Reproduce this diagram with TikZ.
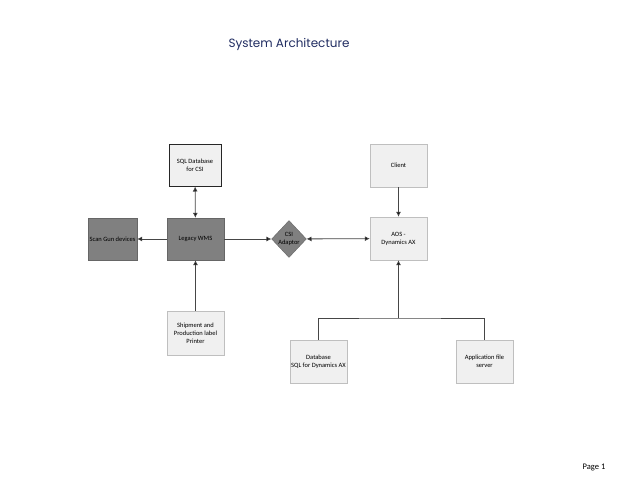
\documentclass[tikz,border=0pt]{standalone}
\usepackage{fontspec}
\setmainfont{Carlito}
\newfontfamily\titlefont{Poppins}
\usepackage{tikz}
\usetikzlibrary{arrows.meta,shapes.geometric,shadows}
\definecolor{titleblue}{RGB}{33,45,98}
\definecolor{linegray}{RGB}{70,70,70}

\begin{document}
\begin{tikzpicture}[x=1pt,y=-1pt,
		every node/.style={font=\fontsize{6.5}{8}\selectfont, align=center},
		lightbox/.style={draw=black!25, fill=black!6, minimum width=57pt, minimum height=43pt, inner sep=1pt,
			drop shadow={opacity=0.15, shadow xshift=1pt, shadow yshift=-1pt}},
		darkbox/.style={draw=black!60, fill=black!50, minimum width=57pt, minimum height=42pt, inner sep=1pt},
		dbbox/.style={lightbox, draw=black!85, line width=1pt, minimum width=52pt, minimum height=42pt},
		adaptor/.style={diamond, draw=black!60, fill=black!50, minimum width=32pt, minimum height=37pt, inner sep=0pt},
		link/.style={draw=linegray, line width=0.8pt},
		>={Latex[length=5pt,width=5pt]}]
			\fill[white] (0,0) rectangle (638,493);
			\node[font=\titlefont\fontsize{12}{14}\selectfont, text=titleblue] (title) at (289,44) {System Architecture};
			\node[font=\fontsize{8.5}{10}\selectfont] (page) at (594,467) {Page 1};

			\node[dbbox] (sqldb) at (195,165) {SQL Database\\for CSI};
			\node[darkbox, minimum width=49pt] (scan) at (112.5,239) {Scan Gun devices};
			\node[darkbox] (wms) at (195.5,239) {Legacy WMS};
			\node[adaptor] (csi) at (289,239) {CSI\\Adaptor};
			\node[lightbox] (client) at (398.5,165.5) {Client};
			\node[lightbox] (aos) at (398.5,238.5) {AOS -\\Dynamics AX};
			\node[lightbox, minimum height=44pt] (ship) at (195.5,333) {Shipment and\\Production label\\Printer};
			\node[lightbox] (db) at (318.5,361.5) {Database\\SQL for Dynamics AX};
			\node[lightbox] (app) at (484.5,361.5) {Application file\\server};
			\coordinate (jn) at (398.5,318);

			\path[link]
			(sqldb) edge[<->] (wms)
			(wms) edge[->] (scan) edge[->] (csi)
			(csi) edge[<->] (aos)
			(client) edge[->] (aos)
			(ship) edge[->] (wms)
			(jn) edge[->] (aos);
			\draw[link] (db) |- (jn) -| (app);
		\end{tikzpicture}
\end{document}
